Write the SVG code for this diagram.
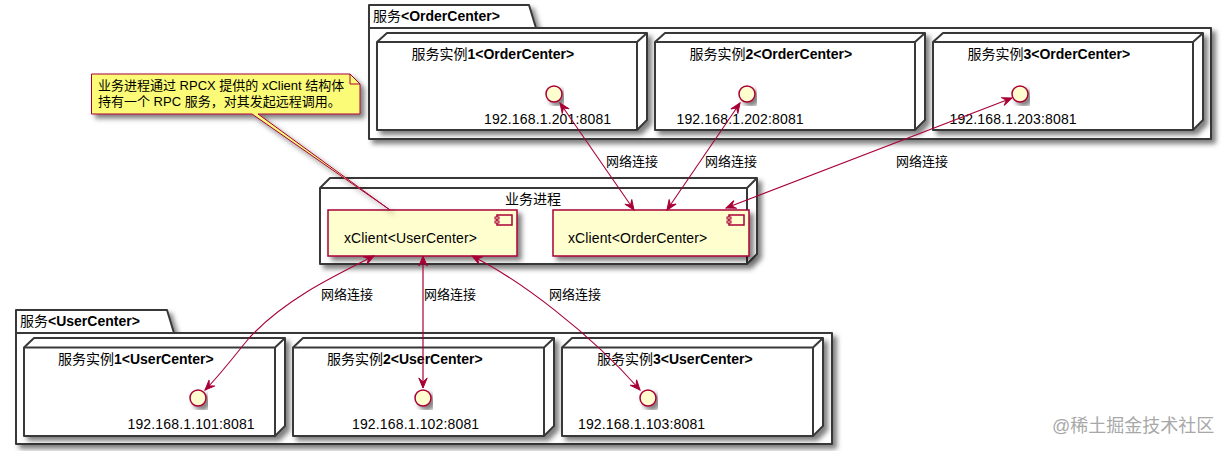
<svg xmlns="http://www.w3.org/2000/svg" width="1228" height="451" viewBox="0 0 1228 451">
<defs>
<filter id="sh" x="-10%" y="-10%" width="120%" height="130%"><feDropShadow dx="4" dy="4" stdDeviation="2.500" flood-color="#000" flood-opacity="0.5"/></filter>
<marker id="arr" viewBox="0 0 12 10" refX="11" refY="5" markerWidth="12" markerHeight="10" markerUnits="userSpaceOnUse" orient="auto-start-reverse"><path d="M11,5 L1,0.8 L5,5 L1,9.2 Z" fill="#A80036" stroke="#A80036" stroke-width="1"/></marker>
<g id="icon"><rect x="2" y="0" width="15" height="10" fill="#FEFECE" stroke="#A80036" stroke-width="1.500"/><rect x="0" y="2" width="4" height="2" fill="#FEFECE" stroke="#A80036" stroke-width="1"/><rect x="0" y="6" width="4" height="2" fill="#FEFECE" stroke="#A80036" stroke-width="1"/></g>
</defs>
<style>
text{font-family:"Liberation Sans","Noto Sans CJK SC",sans-serif;font-size:14px;fill:#000}
.b{font-weight:bold}
.ip{letter-spacing:0.15px}
.cl{letter-spacing:0.12px}
.pk,.nd{fill:#fff;stroke:#383838;stroke-width:2;stroke-linejoin:round}
.ln{fill:none;stroke:#383838;stroke-width:2}
.cp{fill:#FEFECE;stroke:#A80036;stroke-width:1.500}
.ci{fill:#FEFECE;stroke:#A80036;stroke-width:1.500}
.cn{fill:none;stroke:#A80036;stroke-width:1.100;marker-start:url(#arr);marker-end:url(#arr)}
.cv{stroke-width:2;stroke-opacity:0.6}
.lb{font-size:13px}
.wm{font-size:18px;fill:#a8a8a8}
</style>
<rect width="1228" height="451" fill="#fff"/>

<g id="pkg-order">
<path class="pk" filter="url(#sh)" d="M369,28 V5 H529 L536,28 H1211 V139 H369 Z"/>
<path class="ln" d="M369,28 H536"/>
<text x="373" y="21">服务<tspan class="b">&lt;OrderCenter&gt;</tspan></text>
</g>
<g id="pkg-user">
<path class="pk" filter="url(#sh)" d="M16,333 V310 H167 L174,333 H832 V444 H16 Z"/>
<path class="ln" d="M16,333 H174"/>
<text x="20" y="326">服务<tspan class="b">&lt;UserCenter&gt;</tspan></text>
</g>

<g id="node-o1"><path class="nd" filter="url(#sh)" d="M377,42 L387,33 H647 V120 L637,130 H377 Z"/><path class="ln" d="M377,42 H637 V130 M637,42 L647,33"/><text x="411.500" y="59">服务实例<tspan class="b">1&lt;OrderCenter&gt;</tspan></text></g>
<g id="node-o2"><path class="nd" filter="url(#sh)" d="M655,42 L665,33 H925 V120 L915,130 H655 Z"/><path class="ln" d="M655,42 H915 V130 M915,42 L925,33"/><text x="689.500" y="59">服务实例<tspan class="b">2&lt;OrderCenter&gt;</tspan></text></g>
<g id="node-o3"><path class="nd" filter="url(#sh)" d="M933,42 L943,33 H1203 V120 L1193,130 H933 Z"/><path class="ln" d="M933,42 H1193 V130 M1193,42 L1203,33"/><text x="967.500" y="59">服务实例<tspan class="b">3&lt;OrderCenter&gt;</tspan></text></g>

<g id="node-u1"><path class="nd" filter="url(#sh)" d="M24,347.500 L34,338 H285 V426 L275,436 H24 Z"/><path class="ln" d="M24,347.500 H275 V436 M275,347.500 L285,338"/><text x="58" y="364">服务实例<tspan class="b">1&lt;UserCenter&gt;</tspan></text></g>
<g id="node-u2"><path class="nd" filter="url(#sh)" d="M293,347.500 L303,338 H554 V426 L544,436 H293 Z"/><path class="ln" d="M293,347.500 H544 V436 M544,347.500 L554,338"/><text x="327" y="364">服务实例<tspan class="b">2&lt;UserCenter&gt;</tspan></text></g>
<g id="node-u3"><path class="nd" filter="url(#sh)" d="M562,347.500 L572,338 H823 V426 L813,436 H562 Z"/><path class="ln" d="M562,347.500 H813 V436 M813,347.500 L823,338"/><text x="597" y="364">服务实例<tspan class="b">3&lt;UserCenter&gt;</tspan></text></g>

<g id="node-biz"><path class="nd" filter="url(#sh)" d="M320,188 L330,178 H757 V254 L747,264 H320 Z"/><path class="ln" d="M320,188 H747 V264 M747,188 L757,178"/><text x="505" y="204">业务进程</text></g>

<g id="comp-user"><rect class="cp" filter="url(#sh)" x="328" y="210" width="189" height="46"/><use href="#icon" x="495" y="215"/><text class="cl" x="344" y="243">xClient&lt;UserCenter&gt;</text></g>
<g id="comp-order"><rect class="cp" filter="url(#sh)" x="553" y="210" width="196" height="46"/><use href="#icon" x="727" y="215"/><text class="cl" x="568" y="243">xClient&lt;OrderCenter&gt;</text></g>

<g id="if-o1"><circle class="ci" filter="url(#sh)" cx="554" cy="94" r="8"/><text class="ip" x="484" y="124">192.168.1.201:8081</text></g>
<g id="if-o2"><circle class="ci" filter="url(#sh)" cx="747" cy="94" r="8"/><text class="ip" x="676.500" y="124">192.168.1.202:8081</text></g>
<g id="if-o3"><circle class="ci" filter="url(#sh)" cx="1020" cy="94" r="8"/><text class="ip" x="949.500" y="124">192.168.1.203:8081</text></g>
<g id="if-u1"><circle class="ci" filter="url(#sh)" cx="198" cy="398" r="8"/><text class="ip" x="127.500" y="429">192.168.1.101:8081</text></g>
<g id="if-u2"><circle class="ci" filter="url(#sh)" cx="423" cy="398" r="8"/><text class="ip" x="352" y="429">192.168.1.102:8081</text></g>
<g id="if-u3"><circle class="ci" filter="url(#sh)" cx="648" cy="398" r="8"/><text class="ip" x="578" y="429">192.168.1.103:8081</text></g>

<g id="connectors">
<path class="cn" d="M560,103 L634,210"/>
<path class="cn" d="M740,103 L667,210"/>
<path class="cn" d="M1012,98 L726,208"/>
<path class="cn" d="M374,256 C330,278 285,300 250,337 C235,355 220,375 205,390"/>
<path class="cn cv" d="M423,256 V388"/>
<path class="cn" d="M472,256 C520,280 590,333 640,390"/>
</g>

<g id="conn-labels">
<text class="lb" x="606" y="166">网络连接</text>
<text class="lb" x="705" y="166">网络连接</text>
<text class="lb" x="896" y="166">网络连接</text>
<text class="lb" x="321" y="299">网络连接</text>
<text class="lb" x="424" y="299">网络连接</text>
<text class="lb" x="549" y="299">网络连接</text>
</g>

<g id="note">
<path filter="url(#sh)" d="M91.500,74 H350 L360,84 V114 H258 L390,210 L252,114 H91.500 Z" fill="#FBFB77" stroke="#A80036" stroke-width="1"/>
<path d="M350,74 V84 H360 Z" fill="#FBFB77" stroke="#A80036" stroke-width="1"/>
<text class="lb" x="98" y="90">业务进程通过 RPCX 提供的 xClient 结构体</text>
<text class="lb" x="98" y="106">持有一个 RPC 服务，对其发起远程调用。</text>
</g>

<text class="wm" x="1052" y="432">@稀土掘金技术社区</text>
</svg>
